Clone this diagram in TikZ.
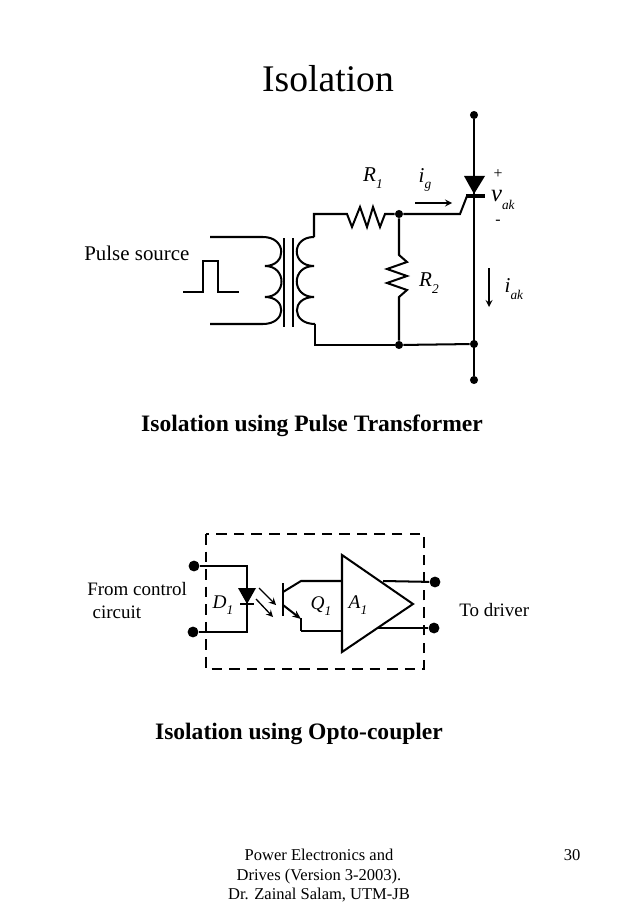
\documentclass[tikz,border=0pt]{standalone}
\usepackage{fontspec}
\setmainfont{Liberation Serif}
\usetikzlibrary{arrows.meta}
\newcommand{\sublabel}[2]{\textit{#1}\raisebox{-.32em}{\fontsize{7.6}{8}\selectfont\textit{#2}}}
\tikzset{
	wire/.style={line width=1.15pt},
	thinwire/.style={line width=.75pt},
	dot/.style={circle,fill=black,inner sep=0pt,minimum size=4.6pt},
	bigdot/.style={circle,fill=black,inner sep=0pt,minimum size=6.2pt},
	txt/.style={inner sep=0pt,font=\fontsize{10.8}{14}\selectfont},
	sym/.style={inner sep=0pt,font=\fontsize{12}{14}\selectfont},
	heading/.style={inner sep=0pt,font=\fontsize{13.4}{16}\selectfont\bfseries},
}
\begin{document}
\begin{tikzpicture}[x=.02cm,y=-.02cm,>=stealth]
	\useasboundingbox (0,0) rectangle (638,922);

	\node[inner sep=0pt,font=\fontsize{21.4}{26}\selectfont] (title) at (328,79) {Isolation};

	% thyristor branch
	\node[dot] (top) at (474,115) {};
	\node[dot] (bottom) at (474,380) {};
	\node[dot] (ret) at (474,344) {};
	\node[dot] (gate) at (399,214) {};
	\node[dot] (low) at (399,345) {};
	\draw[wire] (top) -- (bottom);
	\fill (464,176) -- (485,176) -- (474,194) -- cycle;
	\draw[line width=2pt] (466,196) -- (485,196);
	\draw[wire] (gate) -- (460,214) -- (467,196);
	\draw[wire] (low) -- (ret);

	% R1 and R2
	\coordinate (secA) at (314,237);
	\coordinate (secB) at (315,324);
	\draw[wire] (secA) -- (314,214) -- (347,214) -- (352,227) -- (360,207) -- (367,227) -- (373,207) -- (380,227) -- (385,214) -- (gate);
	\draw[wire] (gate) -- (399,255) -- (407,262) -- (387,269) -- (407,276) -- (387,283) -- (407,290) -- (399,297) -- (low);
	\draw[wire] (secB) -- (315,345) -- (low);

	% transformer
	\draw[wire] (secA) .. controls (291,237) and (291,266) .. (314,266)
		.. controls (291,266) and (291,297) .. (314,297)
		.. controls (291,297) and (291,324) .. (secB);
	\draw[wire] (210,237) -- (263,237) .. controls (287,237) and (287,266) .. (265,266)
		.. controls (287,266) and (287,297) .. (265,297)
		.. controls (287,297) and (287,324) .. (263,324) -- (210,324);
	\draw[thinwire] (284,238) -- (284,327);
	\draw[thinwire] (293,238) -- (293,327);

	% pulse
	\draw[wire] (183,292) -- (203,292) -- (203,261) -- (218,261) -- (218,292) -- (239,292);

	% currents
	\draw[thinwire,->] (415,203) -- (452,203);
	\draw[thinwire,->] (489,268) -- (489,307);

	\node[txt,anchor=west,font=\fontsize{11.9}{14}\selectfont] (source) at (84,253) {Pulse source};
	\node[sym] (rone) at (373,178) {\sublabel{R}{1}};
	\node[sym] (rtwo) at (429,283) {\sublabel{R}{2}};
	\node[sym] (ig) at (425,180) {\sublabel{i}{g}};
	\node[sym] (iak) at (514,289) {\sublabel{i}{ak}};
	\node[sym,font=\fontsize{14}{16}\selectfont] (vak) at (503,200) {\sublabel{v}{ak}};
	\node[inner sep=0pt,font=\fontsize{9}{11}\selectfont] (plus) at (498,174) {+};
	\node[inner sep=0pt,font=\fontsize{9}{11}\selectfont] (minus) at (498,222) {-};
	\node[heading] (headA) at (312,426) {Isolation using Pulse Transformer};

	% opto-coupler box
	\draw[wire,dash pattern=on 6pt off 4pt] (206,534) rectangle (424,669);

	% led
	\node[bigdot] (inA) at (194,566) {};
	\node[bigdot] (inB) at (193,632) {};
	\draw[wire] (inA) -- (247,566) -- (247,632) -- (inB);
	\fill (238,588) -- (256,588) -- (247,604) -- cycle;
	\draw[wire] (240,604) -- (254,604);
	\draw[thinwire,->] (259,588) -- (276,605);
	\draw[thinwire,->] (256,599) -- (273,617);

	% transistor
	\draw[line width=1.5pt] (283,583) -- (283,616);
	\draw[wire] (283,592) -- (301,581) -- (342,581);
	\draw[wire] (301,631) -- (342,631);
	\draw[wire,-{Stealth[length=5pt,width=4pt]}] (283,605) -- (301,619);
	\draw[wire] (301,618) -- (301,631);

	% amplifier
	\node[bigdot] (outA) at (435,582) {};
	\node[bigdot] (outB) at (434,628) {};
	\draw[wire] (342,555) -- (413,604) -- (342,652) -- cycle;
	\draw[wire] (383,581) -- (outA);
	\draw[wire] (377,628) -- (outB);

	\node[txt,anchor=north west,align=left,font=\fontsize{10.8}{13}\selectfont] (from) at (87,582) {From control\\\hspace*{3pt}circuit};
	\node[txt,anchor=west] (driver) at (459,610) {To driver};
	\node[sym,font=\fontsize{11}{13}\selectfont] (done) at (223,605) {\sublabel{D}{1}};
	\node[sym,font=\fontsize{11}{13}\selectfont] (qone) at (321,606) {\sublabel{Q}{1}};
	\node[sym,font=\fontsize{11}{13}\selectfont] (aone) at (358,605) {\sublabel{A}{1}};
	\node[heading] (headB) at (299,734) {Isolation using Opto-coupler};

	% footer
	\node[inner sep=0pt,align=center,font=\fontsize{9.4}{11}\selectfont,anchor=north] (foot) at (319,849) {Power Electronics and\\Drives (Version 3-2003).\\Dr. Zainal Salam, UTM-JB};
	\node[inner sep=0pt,font=\fontsize{9.4}{12}\selectfont] (page) at (572,855) {30};

\end{tikzpicture}
\end{document}
